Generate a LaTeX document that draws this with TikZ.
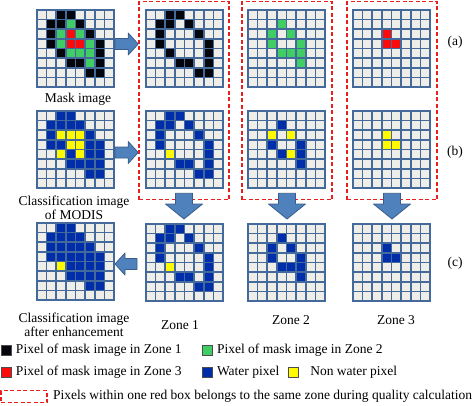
\documentclass[tikz,border=0pt]{standalone}
\usepackage{fontspec}
\setmainfont{Liberation Serif}
\usetikzlibrary{positioning,calc}
\definecolor{gridblue}{RGB}{68,106,156}
\definecolor{cellgray}{RGB}{238,237,232}
\definecolor{pxblack}{RGB}{5,5,12}
\definecolor{pxgreen}{RGB}{64,206,100}
\definecolor{pxred}{RGB}{250,12,12}
\definecolor{pxblue}{RGB}{0,46,170}
\definecolor{pxyellow}{RGB}{255,250,0}
\definecolor{arrowfill}{RGB}{79,129,189}
\definecolor{arrowline}{RGB}{56,93,138}
\definecolor{zonered}{RGB}{235,30,30}

\tikzset{
  cell/.style={draw=gridblue, line width=1.6pt},
  gridframe/.style={draw=gridblue, line width=2pt, minimum size=77pt, inner sep=0pt},
  zonebox/.style={draw=zonered, line width=1.6pt, dash pattern=on 4pt off 2.5pt, inner sep=0pt},
  blockarr/.style={fill=arrowfill, draw=arrowline, line width=0.8pt, line join=round},
  lbl/.style={font=\fontsize{13.5}{14}\selectfont, inner sep=0pt},
  legsq/.style={draw=black!70, line width=0.6pt, minimum size=10pt, inner sep=0pt},
  legtext/.style={lbl, text height=9pt, text depth=3pt},
}

% one 8x8 image: name, top left corner, coloured cells as col/row/colour
\newcommand{\pixgrid}[4]{%
  \foreach \px in {0,...,7} \foreach \py in {0,...,7}
    \draw[cell, fill=cellgray] (#2+\px*9.625, #3+\py*9.625) rectangle ++(9.625,9.625);
  \foreach \px/\py/\pc in {#4}
    \draw[cell, fill=\pc] (#2+\px*9.625-9.625, #3+\py*9.625-9.625) rectangle ++(9.625,9.625);
  \node[gridframe] (#1) at (#2+38.5, #3+38.5) {};
}
% block arrow: from, to, half shaft, half head, head length
\newcommand{\blockarrow}[5]{%
  \coordinate (ba-s) at ($(#2)!#5!(#1)$);
  \draw[blockarr] ($(#1)!#3!-90:(#2)$) -- ($(ba-s)!#3!-90:(#2)$) -- ($(ba-s)!#4!-90:(#2)$)
    -- (#2) -- ($(ba-s)!#4!90:(#2)$) -- ($(ba-s)!#3!90:(#2)$) -- ($(#1)!#3!90:(#2)$) -- cycle;
}

\begin{document}
\begin{tikzpicture}[x=1pt, y=-1pt]
    \useasboundingbox (0,0) rectangle (474,405);

    % red zone boxes
    \node[zonebox, minimum width=90pt, minimum height=198pt] (zbox1) at (184,100.5) {};
    \node[zonebox, minimum width=90pt, minimum height=198pt] (zbox2) at (287,100.5) {};
    \node[zonebox, minimum width=90pt, minimum height=198pt] (zbox3) at (392,100.5) {};

    % row (a)
    \pixgrid{mask}{37}{10}{3/1/pxblack,4/1/pxblack,2/2/pxblack,3/2/pxblack,4/2/pxgreen,5/2/pxblack,
      2/3/pxblack,3/3/pxgreen,4/3/pxred,5/3/pxgreen,6/3/pxblack,
      2/4/pxblack,3/4/pxgreen,4/4/pxred,5/4/pxred,6/4/pxgreen,7/4/pxblack,
      3/5/pxblack,4/5/pxgreen,5/5/pxgreen,6/5/pxgreen,7/5/pxblack,
      4/6/pxblack,5/6/pxblack,6/6/pxgreen,7/6/pxblack,6/7/pxblack,7/7/pxblack}
    \pixgrid{za1}{146}{10}{3/1/pxblack,4/1/pxblack,2/2/pxblack,3/2/pxblack,5/2/pxblack,
      2/3/pxblack,6/3/pxblack,2/4/pxblack,7/4/pxblack,3/5/pxblack,7/5/pxblack,
      4/6/pxblack,5/6/pxblack,7/6/pxblack,6/7/pxblack,7/7/pxblack}
    \pixgrid{za2}{248}{10}{4/2/pxgreen,3/3/pxgreen,5/3/pxgreen,3/4/pxgreen,6/4/pxgreen,
      4/5/pxgreen,5/5/pxgreen,6/5/pxgreen,6/6/pxgreen}
    \pixgrid{za3}{353}{10}{4/3/pxred,4/4/pxred,5/4/pxred}

    % row (b)
    \pixgrid{modis}{37}{111}{3/1/pxblue,4/1/pxblue,2/2/pxblue,3/2/pxblue,4/2/pxblue,5/2/pxblue,
      2/3/pxblue,3/3/pxyellow,4/3/pxyellow,5/3/pxyellow,6/3/pxblue,
      2/4/pxblue,3/4/pxblue,4/4/pxyellow,5/4/pxyellow,6/4/pxblue,7/4/pxblue,
      3/5/pxyellow,4/5/pxblue,5/5/pxyellow,6/5/pxblue,7/5/pxblue,
      4/6/pxblue,5/6/pxblue,6/6/pxblue,7/6/pxblue,6/7/pxblue,7/7/pxblue}
    \pixgrid{zb1}{146}{111}{3/1/pxblue,4/1/pxblue,2/2/pxblue,3/2/pxblue,5/2/pxblue,
      2/3/pxblue,6/3/pxblue,2/4/pxblue,7/4/pxblue,3/5/pxyellow,7/5/pxblue,
      4/6/pxblue,5/6/pxblue,7/6/pxblue,6/7/pxblue,7/7/pxblue}
    \pixgrid{zb2}{248}{111}{4/2/pxblue,3/3/pxyellow,5/3/pxyellow,3/4/pxblue,6/4/pxblue,
      4/5/pxblue,5/5/pxyellow,6/5/pxblue,6/6/pxblue}
    \pixgrid{zb3}{353}{111}{4/3/pxyellow,4/4/pxyellow,5/4/pxyellow}

    % row (c)
    \pixgrid{enh}{37}{223}{3/1/pxblue,4/1/pxblue,2/2/pxblue,3/2/pxblue,4/2/pxblue,5/2/pxblue,
      2/3/pxblue,3/3/pxblue,4/3/pxblue,5/3/pxblue,6/3/pxblue,
      2/4/pxblue,3/4/pxblue,4/4/pxblue,5/4/pxblue,6/4/pxblue,7/4/pxblue,
      3/5/pxyellow,4/5/pxblue,5/5/pxblue,6/5/pxblue,7/5/pxblue,
      4/6/pxblue,5/6/pxblue,6/6/pxblue,7/6/pxblue,6/7/pxblue,7/7/pxblue}
    \pixgrid{zc1}{146}{224}{3/1/pxblue,4/1/pxblue,2/2/pxblue,3/2/pxblue,5/2/pxblue,
      2/3/pxblue,6/3/pxblue,2/4/pxblue,7/4/pxblue,3/5/pxyellow,7/5/pxblue,
      4/6/pxblue,5/6/pxblue,7/6/pxblue,6/7/pxblue,7/7/pxblue}
    \pixgrid{zc2}{248}{224}{4/2/pxblue,3/3/pxblue,5/3/pxblue,3/4/pxblue,6/4/pxblue,
      4/5/pxblue,5/5/pxblue,6/5/pxblue,6/6/pxblue}
    \pixgrid{zc3}{353}{224}{4/3/pxblue,4/4/pxblue,5/4/pxblue}

    % arrows
    \coordinate (aa1) at ([yshift=4.5pt]mask.east);
    \coordinate (aa2) at (aa1 -| zbox1.west);
    \blockarrow{aa1}{aa2}{5.5pt}{11pt}{10pt}
    \coordinate (ab1) at ([yshift=-3pt]modis.east);
    \coordinate (ab2) at (ab1 -| zbox1.west);
    \blockarrow{ab1}{ab2}{5.5pt}{11pt}{10pt}
    \coordinate (ac1) at ([xshift=-8pt,yshift=-1.5pt]zc1.west);
    \coordinate (ac2) at (ac1 -| enh.east);
    \blockarrow{ac1}{ac2}{5.5pt}{11pt}{10pt}
    \foreach \z in {1,2,3} {
        \coordinate (ds\z) at ([yshift=7pt]zbox\z.south);
        \coordinate (de\z) at ($(ds\z |- zc\z.north)+(0,-4)$);
        \blockarrow{ds\z}{de\z}{8.5pt}{18.5pt}{15pt}
    }

    % labels
    \node[lbl, anchor=base] (masklbl) at (78,102) {Mask image};
    \node[lbl, anchor=north, align=center] (modislbl) at (74,195.5) {Classification image\\of MODIS};
    \node[lbl, anchor=north, align=center] (enhlbl) at (74,312.5) {Classification image\\after enhancement};
    \node[lbl, anchor=base] (zlbl1) at (180,329) {Zone 1};
    \node[lbl, anchor=base] (zlbl2) at (291,324) {Zone 2};
    \node[lbl, anchor=base] (zlbl3) at (396,324) {Zone 3};
    \node[lbl] (rowa) at (455,42) {(a)};
    \node[lbl] (rowb) at (455,152) {(b)};
    \node[lbl] (rowc) at (455,263) {(c)};

    % legend
    \node[legsq, fill=pxblack] (legk) at (6.5,350) {};
    \node[legtext, right=4pt of legk] (legktxt) {Pixel of mask image in Zone 1};
    \node[legsq, fill=pxgreen] (legg) at (207.5,350) {};
    \node[legtext, right=4pt of legg] (leggtxt) {Pixel of mask image in Zone 2};
    \node[legsq, fill=pxred] (legr) at (6.5,372) {};
    \node[legtext, right=4pt of legr] (legrtxt) {Pixel of mask image in Zone 3};
    \node[legsq, fill=pxblue] (legb) at (207.5,372) {};
    \node[legtext, right=4pt of legb] (legbtxt) {Water pixel};
    \node[legsq, fill=pxyellow, right=9pt of legbtxt] (legy) {};
    \node[legtext, right=11pt of legy] (legytxt) {Non water pixel};
    \node[zonebox, minimum width=46pt, minimum height=12pt] (legz) at (24,396.5) {};
    \node[legtext, right=5pt of legz] (legztxt) {Pixels within one red box belongs to the same zone during quality calculation};
\end{tikzpicture}
\end{document}
